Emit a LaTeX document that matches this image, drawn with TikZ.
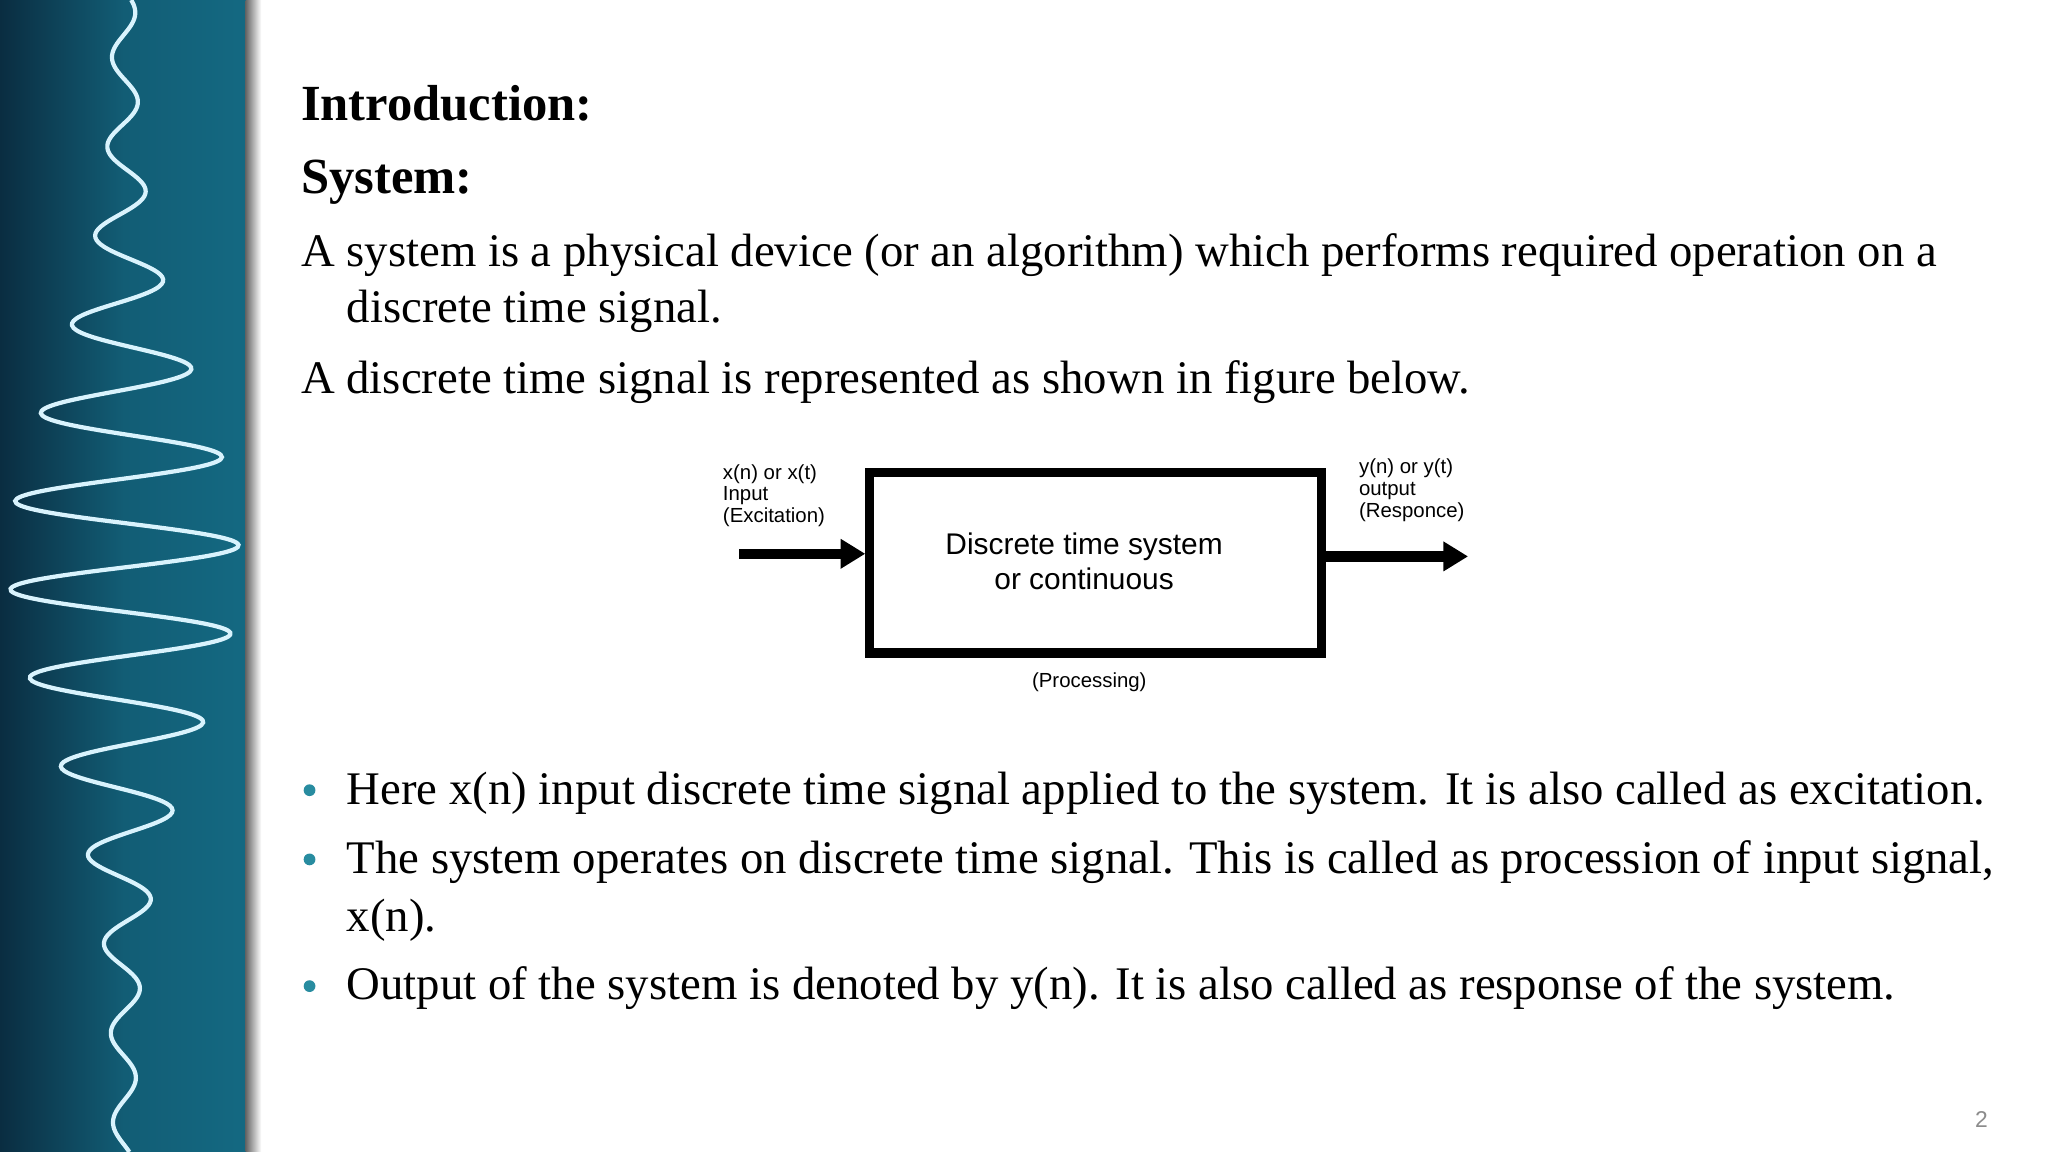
\documentclass[tikz,border=0pt]{standalone}
\usepackage{fontspec}
\setmainfont{Liberation Serif}
\newfontfamily\arial{Liberation Sans}
\usetikzlibrary{arrows.meta}
\definecolor{teal1}{RGB}{10,45,65}
\definecolor{teal2}{RGB}{20,105,130}
\definecolor{bul}{RGB}{40,140,160}
\begin{document}
\begin{tikzpicture}[x=0.013061cm,y=-0.013061cm,
 body/.style={anchor=base west,inner sep=0,font=\fontsize{13.3}{15}\selectfont},
 head/.style={body,font=\fontsize{14.4}{16}\selectfont\bfseries},
 small/.style={inner sep=0,align=left,font=\arial\fontsize{5.8}{6.2}\selectfont},
 arr/.style={line width=3pt,-{Triangle[length=7pt,width=8pt]}}]
\useasboundingbox (0,0) rectangle (1568,882);
\fill[white] (0,0) rectangle (1568,882);
\shade[left color=teal1,right color=teal2,middle color=teal2!80!teal1] (0,0) rectangle (190,882);
\shade[left color=black!60,right color=white] (188,0) rectangle (200,882);
\draw[white!85!cyan,line width=1.2pt] plot[domain=0:882,samples=500,smooth] ({95+(80*exp(-((\x-430)/190)^2)+8)*sin(\x*5.294+40)},\x);
\node[head] (h1) at (230,92) {Introduction:};
\node[head] (h2) at (230,148) {System:};
\node[body] (p1) at (230,204) {A system is a physical device (or an algorithm) which performs required operation on a};
\node[body] (p1b) at (265,247) {discrete time signal.};
\node[body] (p2) at (230,301) {A discrete time signal is represented as shown in figure below.};
\node[draw,line width=2.6pt,minimum width=346*0.013061cm,minimum height=138*0.013061cm,inner sep=0] (box) at (839,431) {};
\node[font=\arial\fontsize{8.5}{10}\selectfont,align=center] (bt) at (830,430) {Discrete time system\\or continuous};
\coordinate (inS) at (566,424);
\coordinate (outE) at (1124,426);
\draw[arr] (inS) -- (box.west|-inS);
\draw[arr] (box.east|-outE) -- (outE);
\node[small,anchor=north west] (lin) at (553,355) {x(n) or x(t)\\Input\\(Excitation)};
\node[small,anchor=north west] (lout) at (1040,351) {y(n) or y(t)\\output\\(Responce)};
\node[small] (lp) at (834,522) {(Processing)};
\foreach \yy in {605,658,755} \fill[bul] (237,\yy) circle (4.5);
\node[body] (b1) at (265,616) {Here x(n) input discrete time signal applied to the system. It is also called as excitation.};
\node[body] (b2) at (265,669) {The system operates on discrete time signal. This is called as procession of input signal,};
\node[body] (b2b) at (265,713) {x(n).};
\node[body] (b3) at (265,765) {Output of the system is denoted by y(n). It is also called as response of the system.};
\node[font=\arial\fontsize{6.5}{8}\selectfont,text=black!45] (pg) at (1517,857) {2};
\end{tikzpicture}
\end{document}
